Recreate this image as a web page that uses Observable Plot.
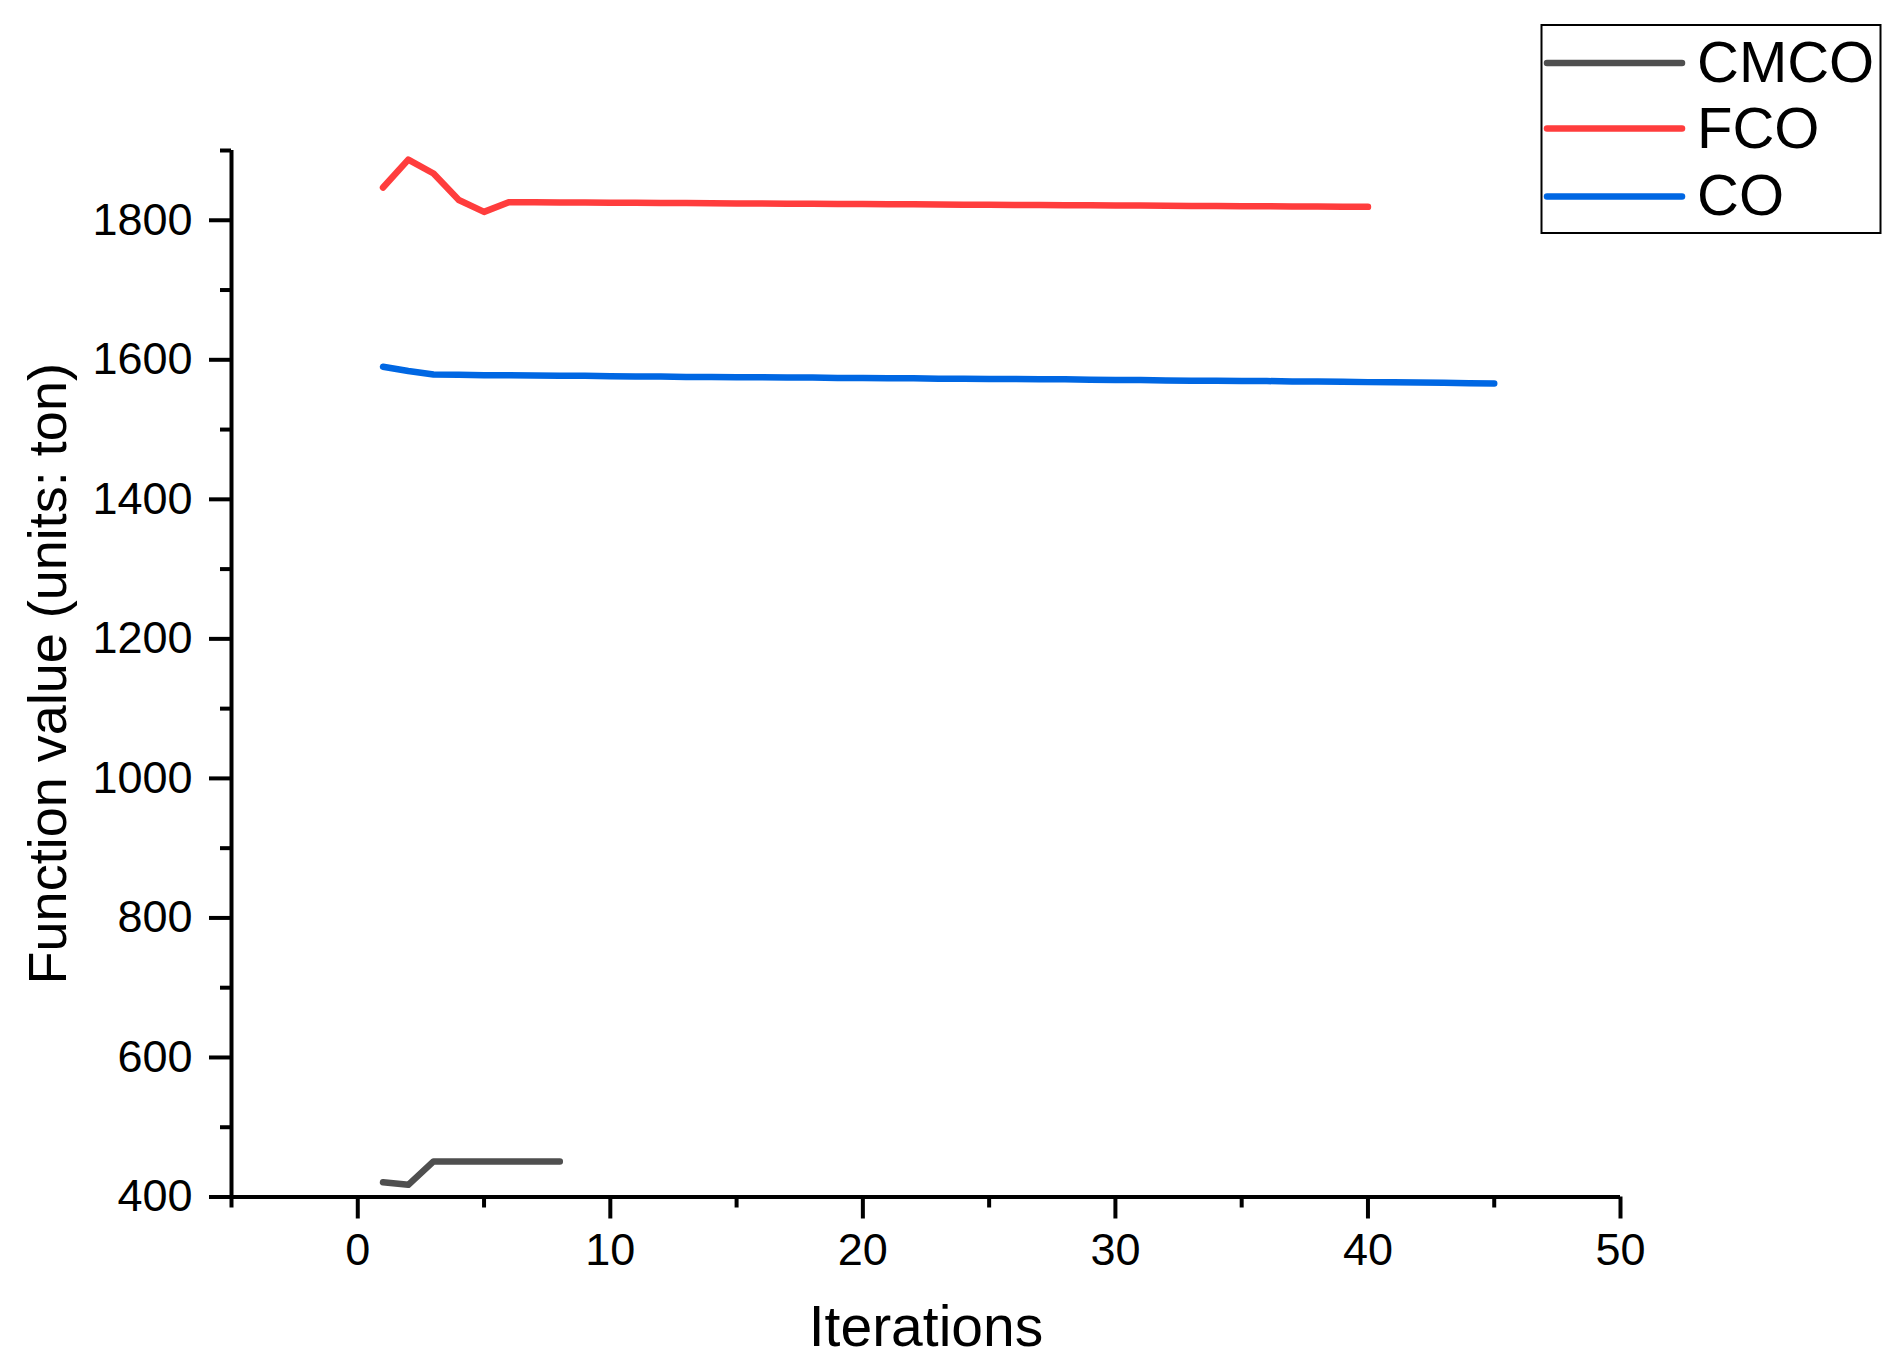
<!DOCTYPE html>
<html>
<head>
<meta charset="utf-8">
<script src="https://cdn.jsdelivr.net/npm/d3@7"></script>
<script src="https://cdn.jsdelivr.net/npm/@observablehq/plot@0.6"></script>
<style>
  html, body { margin: 0; padding: 0; background: #fff; }
  #chart { width: 1899px; height: 1368px; position: relative; }
</style>
</head>
<body>
<div id="chart"></div>
<script>
// Data
const seriesNames = ["CMCO", "FCO", "CO"];
const seriesColors = ["#4f4f4f", "#ff3d3d", "#0067e3"];

const cmcoValues = [421, 417.5, 451, 451, 451, 451, 451, 451];
const fcoValues = [1847, 1887, 1867, 1829, 1812, 1826, 1825.8, 1825.6, 1825.4, 1825.2,
  1825, 1824.8, 1824.6, 1824.4, 1824.2, 1824, 1823.8, 1823.6, 1823.4, 1823.2,
  1823, 1822.8, 1822.6, 1822.4, 1822.2, 1822, 1821.8, 1821.6, 1821.4, 1821.2,
  1821, 1820.8, 1820.6, 1820.4, 1820.2, 1820, 1819.8, 1819.6, 1819.4, 1819.2];
const coValues = [1590, 1584, 1579, 1578.5, 1578, 1577.8, 1577.5, 1577, 1577, 1576.5,
  1576, 1576, 1575.5, 1575.5, 1575, 1575, 1574.5, 1574.5, 1574, 1574,
  1573.5, 1573.5, 1573, 1573, 1572.5, 1572.5, 1572, 1572, 1571.5, 1571,
  1571, 1570.5, 1570, 1570, 1569.5, 1569.5, 1569, 1569, 1568.5, 1568,
  1568, 1567.5, 1567, 1566.5, 1566];

const xMajorTicks = [0, 10, 20, 30, 40, 50];
const xMinorTicks = [-5, 5, 15, 25, 35, 45];
const yMajorTicks = [400, 600, 800, 1000, 1200, 1400, 1600, 1800];
const yMinorTicks = [500, 700, 900, 1100, 1300, 1500, 1700, 1900];

const toRows = (vals) => vals.map((v, i) => ({iter: i + 1, value: v}));
const allSeries = [cmcoValues, fcoValues, coValues];

const FONT = '"Liberation Sans", Arial, Helvetica, sans-serif';
const fmt = (d) => String(d);

const plot = Plot.plot({
  width: 1899,
  height: 1368,
  marginLeft: 231,
  marginRight: 279,
  marginTop: 150,
  marginBottom: 171.5,
  style: {fontFamily: FONT, fontSize: "45px", color: "#000", background: "#fff", overflow: "visible"},
  x: {domain: [-5, 50]},
  y: {domain: [400, 1900]},
  marks: [
    Plot.axisX({ticks: xMinorTicks, tickSize: 11, strokeWidth: 4, text: null, label: null}),
    Plot.axisX({ticks: xMajorTicks, tickSize: 22, tickPadding: 14, strokeWidth: 4, fontSize: 45, tickFormat: fmt, label: null}),
    Plot.axisY({ticks: yMinorTicks, tickSize: 11, strokeWidth: 4, text: null, label: null}),
    Plot.axisY({ticks: yMajorTicks, tickSize: 22, tickPadding: 17, strokeWidth: 4, fontSize: 45, tickFormat: fmt, label: null}),
    Plot.ruleY([400], {strokeWidth: 4, stroke: "#000"}),
    Plot.ruleX([-5], {strokeWidth: 4, stroke: "#000"}),
    ...allSeries.map((vals, i) => Plot.line(toRows(vals), {
      x: "iter", y: "value", stroke: seriesColors[i], strokeWidth: 6.5,
      strokeLinecap: "round", strokeLinejoin: "round"
    })),
    Plot.text(["Iterations"], {frameAnchor: "bottom", textAnchor: "middle", lineAnchor: "middle", dy: 131, fontSize: 57, fill: "#000"}),
    Plot.text(["Function value (units: ton)"], {frameAnchor: "left", textAnchor: "middle", lineAnchor: "middle", dx: -183, rotate: -90, fontSize: 54, fill: "#000"})
  ]
});

document.getElementById("chart").appendChild(plot);

// Legend (boxed, top right) drawn into the same SVG
const svg = d3.select(plot);
const lg = svg.append("g").attr("font-family", FONT).attr("text-anchor", "start");
lg.append("rect")
  .attr("x", 1541.5).attr("y", 25).attr("width", 339).attr("height", 208)
  .attr("fill", "#fff").attr("stroke", "#000").attr("stroke-width", 2);
const rowY = [63, 128.5, 196.5];
const baseY = [82, 148, 214.5];
seriesNames.forEach((name, i) => {
  lg.append("line")
    .attr("x1", 1547).attr("x2", 1682).attr("y1", rowY[i]).attr("y2", rowY[i])
    .attr("stroke", seriesColors[i]).attr("stroke-width", 6.5).attr("stroke-linecap", "round");
  lg.append("text")
    .attr("x", 1697).attr("y", baseY[i])
    .attr("font-size", 58).attr("fill", "#000")
    .attr("text-anchor", "start")
    .text(name);
});
</script>
</body>
</html>
